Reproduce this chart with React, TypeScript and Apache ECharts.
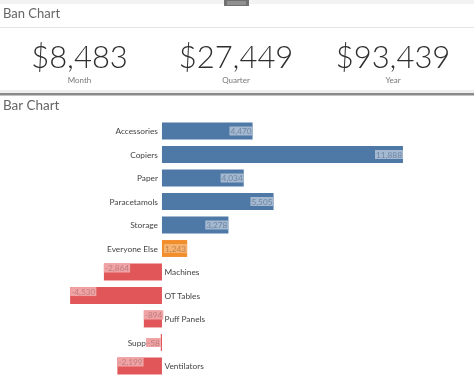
import React, { useEffect, useRef } from "react";
import * as echarts from "echarts";

const categories = ["Accessories", "Copiers", "Paper", "Paracetamols", "Storage", "Everyone Else", "Machines", "OT Tables", "Puff Panels", "Supplies", "Ventilators"];
const values = [4470, 11888, 4034, 5505, 3278, 1243, -2864, -4530, -894, -58, -2199];
const groups = ["top", "top", "top", "top", "top", "other", "bottom", "bottom", "bottom", "bottom", "bottom"];
const kpiValues = ["$8,483", "$27,449", "$93,439"];
const kpiLabels = ["Month", "Quarter", "Year"];

const groupColor: Record<string, string> = { top: "#4e79a7", other: "#f28e2b", bottom: "#e15759" };
const labelBg: Record<string, string> = { top: "#a4b8d0", other: "#f6b26f", bottom: "#f0a3a4" };
const labelText: Record<string, string> = { top: "#6f86a3", other: "#c2834a", bottom: "#bf7c7f" };

const FONT = "Lato, 'Open Sans', sans-serif";

export default function App() {
  const ref = useRef<HTMLDivElement>(null);
  useEffect(() => {
    document.body.style.margin = "0";
    const chart = echarts.init(ref.current!, null, { renderer: "svg" });
    const kpiX = [79.5, 236, 393];
    const graphics: any[] = [
      { type: "rect", shape: { x: 0, y: 0, width: 474, height: 4 }, style: { fill: "#f3f3f3" }, silent: true },
      { type: "rect", shape: { x: 224, y: 0, width: 25, height: 6 }, style: { fill: "#707070" }, silent: true },
      { type: "line", shape: { x1: 227, y1: 2, x2: 246, y2: 2 }, style: { stroke: "#b0b0b0", lineWidth: 1 }, silent: true },
      { type: "line", shape: { x1: 227, y1: 4, x2: 246, y2: 4 }, style: { stroke: "#b0b0b0", lineWidth: 1 }, silent: true },
      { type: "text", x: 3, y: 13, style: { text: "Ban Chart", fontSize: 13, fontFamily: FONT, fill: "#666", textVerticalAlign: "middle" } },
      { type: "line", shape: { x1: 0, y1: 27.5, x2: 474, y2: 27.5 }, style: { stroke: "#e4e4e4", lineWidth: 1 }, silent: true },
      { type: "rect", shape: { x: 0, y: 90, width: 474, height: 3 }, style: { fill: "#eeeeee" }, silent: true },
      { type: "rect", shape: { x: 0, y: 93, width: 474, height: 2.5 }, style: { fill: "#8a8a8a" }, silent: true },
      { type: "text", x: 3, y: 105, style: { text: "Bar Chart", fontSize: 13.5, fontFamily: FONT, fill: "#666", textVerticalAlign: "middle" } },
    ];
    kpiValues.forEach((v, i) => {
      graphics.push({ type: "text", x: kpiX[i], y: 56, style: { text: v, fontSize: 31, fontWeight: 300, fontFamily: FONT, fill: "#2e2e2e", textAlign: "center", textVerticalAlign: "middle" } });
      graphics.push({ type: "text", x: kpiX[i], y: 80, style: { text: kpiLabels[i], fontSize: 8, fontFamily: FONT, fill: "#777", textAlign: "center", textVerticalAlign: "middle" } });
    });

    const barData = values.map((v, i) => {
      const g = groups[i];
      const neg = v < 0;
      const tiny = Math.abs(v) < 200;
      return {
        value: v,
        itemStyle: { color: groupColor[g] },
        label: {
          show: true,
          position: neg ? (tiny ? "left" : "insideTopLeft") : "insideRight",
          distance: 0,
          backgroundColor: labelBg[g],
          color: labelText[g],
          fontSize: 8.3,
          fontFamily: FONT,
          padding: [0, 1],
          lineHeight: 9,
          formatter: (p: any) => Number(p.value).toLocaleString("en-US"),
        },
      };
    });
    const nameData = values.map((v, i) => ({
      value: 0,
      label: {
        show: true,
        position: v < 0 && Math.abs(v) >= 200 ? "right" : "left",
        distance: v < 0 && Math.abs(v) >= 200 ? 2.5 : 4,
        formatter: categories[i],
        color: "#444",
        fontSize: 8.3,
        fontFamily: FONT,
      },
    }));

    chart.setOption({
      animation: false,
      grid: { left: 60.6, width: 364.9, top: 119.25, height: 258.5, containLabel: false },
      xAxis: { type: "value", min: -5000, max: 13000, show: false, splitLine: { show: false } },
      yAxis: { type: "category", data: categories, inverse: true, show: false },
      graphic: graphics,
      series: [
        { type: "bar", name: "names", data: nameData, barCategoryGap: "28%", z: 1, itemStyle: { color: "transparent" }, silent: true },
        { type: "bar", name: "value", data: barData, barGap: "-100%", barCategoryGap: "28%", z: 2 },
      ],
    });
    return () => chart.dispose();
  }, []);
  return <div ref={ref} style={{ position: "fixed", left: 0, top: 0, width: 474, height: 379 }} />;
}
